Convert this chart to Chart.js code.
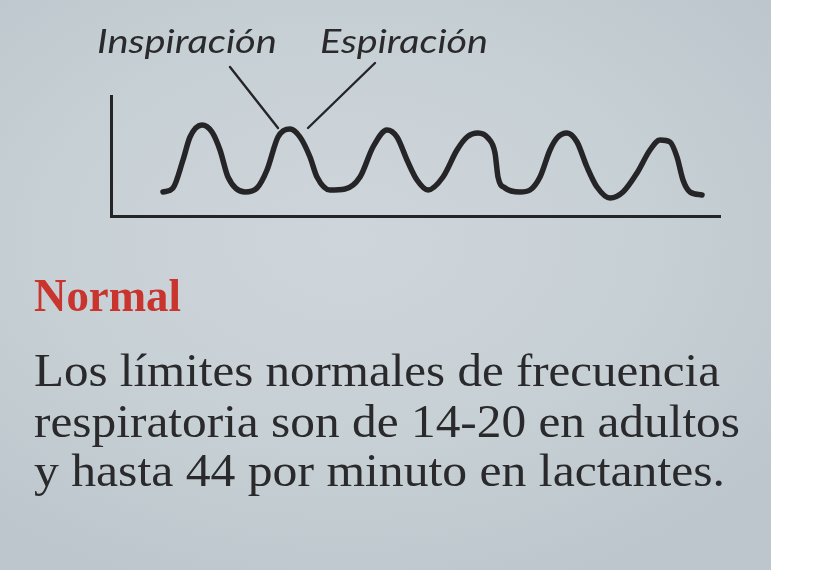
<!DOCTYPE html>
<html>
<head>
<meta charset="utf-8">
<script src="https://cdn.jsdelivr.net/npm/chart.js@4.4.1/dist/chart.umd.min.js"></script>
<style>
  html, body { margin:0; padding:0; background:#ffffff; width:816px; height:570px; overflow:hidden; }
  #photo { position:absolute; left:0; top:0; width:771px; height:570px;
    background: radial-gradient(ellipse 70% 65% at 45% 42%, #cfd6db 0%, #c7d0d5 55%, #bcc6cc 100%); }
  #chartBox { position:absolute; left:0; top:0; width:771px; height:570px; }
  .t { position:absolute; left:34px; top:0; white-space:nowrap; font-family:"Liberation Serif", serif;
       font-size:46px; line-height:1; color:#2a2a2c; transform-origin:0 0; }
  #h { font-weight:bold; color:#c9352e; }
</style>
</head>
<body>
<div id="photo"></div>
<div id="chartBox"><canvas id="c"></canvas></div>
<div class="t" id="h" data-base="311" data-w="147">Normal</div>
<div class="t" data-base="386" data-w="686">Los límites normales de frecuencia</div>
<div class="t" data-base="437" data-w="706">respiratoria son de 14-20 en adultos</div>
<div class="t" data-base="486" data-w="691">y hasta 44 por minuto en lactantes.</div>
<script>
// Breathing trace (time units along the axis, volume units up)
const timeX   = [52,62,72,79,91,101,109,117, 134,146,156,167,179,189,199,206,
                 219,234,249,262,276,286,296,306, 317,332,346,356,367,377,384,387,
                 394,409,419,429,439,446,456,466, 476,486,499,512,526,539,549,559,
                 566,572,579,591];
const volumeY = [24,28,56,79,91,84,66,39, 24,28,46,79,87,79,59,39,
                 26,27,39,69,86,79,56,36, 26,39,66,79,83,78,63,39,
                 28,24,26,39,66,78,83,74, 49,29,18,24,43,66,76,74,
                 59,36,24,21];
const labelTexts = ["Inspiración", "Espiración"];

// Annotation placement (in axis units)
const labelBoxes = [ {x0:-14, x1:166, y:163}, {x0:209, x1:377, y:163} ];
const leaders    = [ {x0:119, y0:149, x1:167, y1:88}, {x0:264, y0:153, x1:197, y1:88} ];

const points = timeX.map((t, i) => ({x: t, y: volumeY[i]}));
const INK = '#252527';

const annot = {
  id: 'annot',
  afterDatasetsDraw(chart) {
    const {ctx, scales: {x, y}} = chart;
    ctx.save();
    ctx.strokeStyle = INK; ctx.lineWidth = 2.4; ctx.lineCap = 'round';
    leaders.forEach(l => {
      ctx.beginPath();
      ctx.moveTo(x.getPixelForValue(l.x0), y.getPixelForValue(l.y0));
      ctx.lineTo(x.getPixelForValue(l.x1), y.getPixelForValue(l.y1));
      ctx.stroke();
    });
    ctx.fillStyle = '#2a2a2c';
    ctx.font = 'italic 33px Lato, "Open Sans", sans-serif';
    ctx.textBaseline = 'alphabetic';
    labelBoxes.forEach((b, i) => {
      const l = x.getPixelForValue(b.x0), r = x.getPixelForValue(b.x1);
      const w = ctx.measureText(labelTexts[i]).width;
      ctx.save();
      ctx.translate(l, y.getPixelForValue(b.y));
      ctx.scale((r - l) / w, 1);
      ctx.fillText(labelTexts[i], 0, 0);
      ctx.restore();
    });
    ctx.restore();
  }
};

new Chart(document.getElementById('c'), {
  type: 'line',
  data: { datasets: [{
    data: points,
    borderColor: INK,
    borderWidth: 5.5,
    borderCapStyle: 'round',
    borderJoinStyle: 'round',
    pointRadius: 0,
    fill: false,
    cubicInterpolationMode: 'monotone',
    clip: false
  }]},
  options: {
    responsive: true,
    maintainAspectRatio: false,
    animation: false,
    layout: { padding: { left: 111, right: 51, top: 96, bottom: 354 } },
    plugins: { legend: { display: false }, tooltip: { enabled: false }, title: { display: false } },
    scales: {
      x: { type: 'linear', min: 0, max: 609,
           grid: { display: false, drawTicks: false },
           ticks: { display: false },
           border: { display: true, color: INK, width: 3 },
           afterFit(s) { s.height = 0; } },
      y: { type: 'linear', min: 0, max: 120,
           grid: { display: false, drawTicks: false },
           ticks: { display: false },
           border: { display: true, color: INK, width: 3 },
           afterFit(s) { s.width = 0; } }
    }
  },
  plugins: [annot]
});

// place text lines by baseline and fit their widths
document.querySelectorAll('.t').forEach(el => {
  const m = document.createElement('span');
  m.style.cssText = 'display:inline-block;width:0;height:0;vertical-align:baseline;';
  el.appendChild(m);
  const base = m.getBoundingClientRect().top;
  el.style.top = (parseFloat(el.dataset.base) - base) + 'px';
  const w = el.getBoundingClientRect().width;
  el.style.transform = 'scaleX(' + (parseFloat(el.dataset.w) / w) + ')';
});
</script>
</body>
</html>
